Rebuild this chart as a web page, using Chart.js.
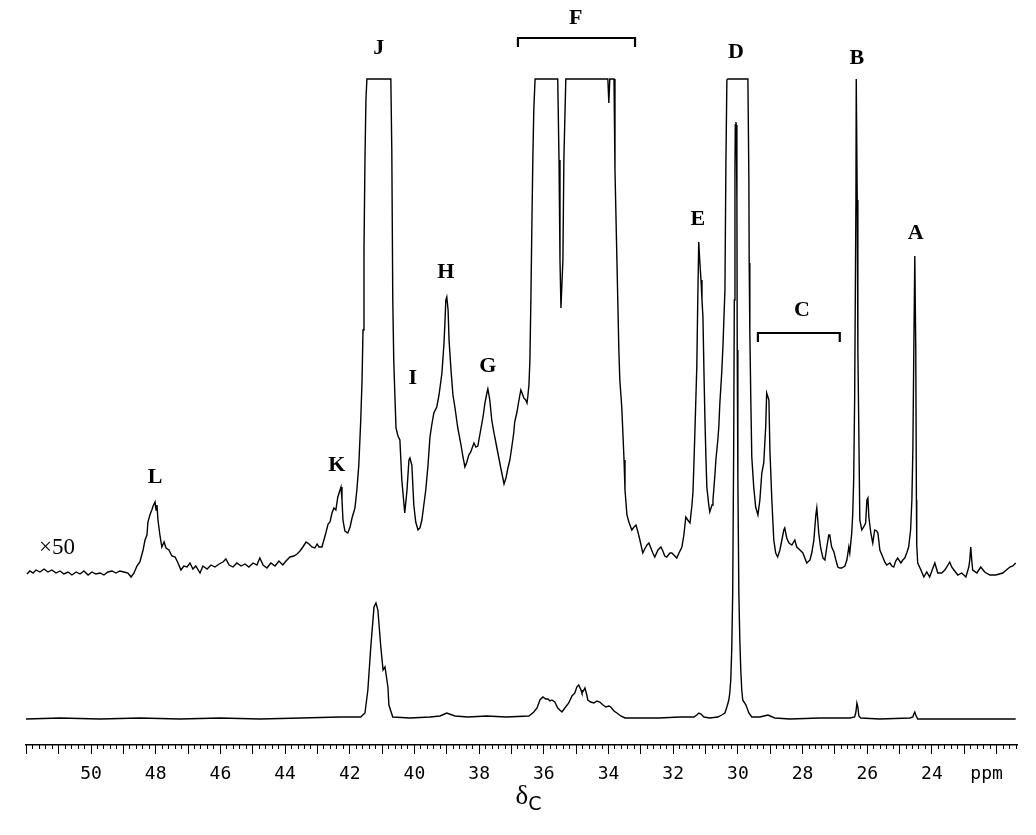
<!DOCTYPE html>
<html><head><meta charset="utf-8">
<script src="https://cdn.jsdelivr.net/npm/chart.js@4.4.1/dist/chart.umd.min.js"></script>
<style>html,body{margin:0;padding:0;background:#fff;}#wrap{width:1036px;height:835px;position:relative;}</style>
</head><body><div id="wrap"><canvas id="c" width="1036" height="835"></canvas></div>
<script>
// ×50 expanded trace: chemical shift (ppm) and intensity above its own baseline
const upperPpm = [51.98,51.89,51.79,51.70,51.58,51.45,51.33,51.21,51.08,50.96,50.84,50.71,50.59,50.46,50.34,50.22,50.09,49.97,49.85,49.72,49.60,49.48,49.35,49.23,49.11,48.98,48.86,48.76,48.67,
48.58,48.49,48.39,48.33,48.27,48.24,48.18,48.12,48.08,48.02,47.99,47.96,47.93,47.87,47.81,47.74,47.68,47.59,47.50,47.40,47.31,47.22,47.13,47.03,46.94,46.85,46.76,46.63,46.54,46.41,46.29,46.17,46.04,45.92,45.83,45.73,45.61,45.49,45.36,45.24,45.12,44.99,44.87,44.78,44.68,44.56,44.44,44.31,44.19,44.07,43.97,43.85,43.73,43.63,43.54,43.45,43.35,43.26,43.17,43.08,43.01,42.95,42.86,42.80,42.74,42.67,42.61,42.55,42.49,42.43,42.37,42.30,42.27,42.24,42.21,42.15,42.06,41.99,41.93,41.84,41.78,41.72,41.66,41.62,41.59,41.56,41.53,41.50,41.47,
40.73,40.70,40.67,40.64,40.60,40.57,40.51,40.45,40.39,40.30,40.23,40.17,40.14,40.08,40.02,39.96,39.89,39.83,39.77,39.71,39.65,39.58,39.52,39.46,39.40,39.31,39.24,39.15,39.09,39.06,39.03,39.00,38.96,38.93,38.87,38.81,38.75,38.66,38.56,38.50,38.44,38.38,38.32,38.26,38.16,38.10,38.04,37.98,37.88,37.82,37.76,37.73,37.67,37.61,37.54,37.48,37.42,37.33,37.23,37.17,37.11,37.05,36.99,36.93,36.90,36.83,36.80,36.74,36.71,36.65,36.62,36.56,36.52,36.49,36.46,36.43,36.40,36.37,36.34,36.31,36.27,
35.57,35.53,35.50,35.47,35.41,35.38,35.32,34.02,33.99,33.96,33.83,33.80,33.74,33.68,33.65,33.59,33.52,33.49,33.43,33.37,33.28,33.21,33.15,33.09,33.03,32.94,32.88,32.81,32.75,32.69,32.63,32.57,32.47,32.38,32.32,32.26,32.20,32.10,32.04,31.95,31.89,31.82,31.73,31.67,31.61,31.55,31.48,31.42,31.39,31.36,31.33,31.30,31.27,31.24,31.21,31.18,31.14,31.11,31.08,31.05,31.02,30.99,30.96,30.90,30.87,30.80,30.77,30.71,30.68,30.62,30.59,30.56,30.50,30.46,30.43,30.40,30.37,30.34,30.31,
29.69,29.66,29.65,29.63,29.60,29.57,29.51,29.45,29.38,29.32,29.26,29.20,29.17,29.14,29.11,29.07,29.04,29.01,28.95,28.89,28.83,28.77,28.70,28.64,28.58,28.55,28.49,28.42,28.33,28.24,28.18,28.08,27.99,27.93,27.87,27.77,27.71,27.65,27.59,27.56,27.53,27.50,27.44,27.37,27.31,27.25,27.19,27.16,27.10,27.03,26.97,26.91,26.85,26.79,26.69,26.63,26.57,26.54,26.48,26.45,26.42,26.39,26.35,26.34,26.32,26.31,26.29,26.26,26.23,26.17,26.11,26.05,26.01,25.98,25.95,25.89,25.83,25.77,25.71,25.67,25.61,25.52,25.46,25.40,25.30,25.24,25.18,25.12,25.06,24.96,24.90,24.84,24.78,24.72,24.66,24.62,24.59,24.56,24.53,24.50,24.48,24.47,24.44,24.34,24.25,24.16,24.07,23.97,23.91,23.82,23.70,23.60,23.54,23.45,23.39,23.32,23.20,23.08,22.95,22.86,22.83,22.80,22.77,22.74,22.61,22.49,22.37,22.21,22.03,21.81,21.59,21.50,21.41];
const upperIntensity = [-1,2,0,3,1,4,1,3,0,2,-1,1,-2,1,-1,2,-2,1,-1,0,-2,1,2,0,2,1,0,-4,0,
7,11,23,33,38,51,58,63,67,71,63,68,53,38,26,31,25,23,17,16,10,3,7,6,10,4,7,0,7,4,8,6,9,11,14,8,6,10,7,9,6,10,8,15,8,5,10,7,12,8,12,16,17,19,22,26,31,29,26,25,29,26,26,33,40,49,51,60,65,63,76,83,86,73,53,42,40,46,55,65,83,108,153,193,243,323,413,473,494,
494,423,273,213,173,145,137,133,93,60,83,113,115,108,68,51,43,45,53,68,83,108,136,149,160,166,178,200,228,248,273,276,263,233,203,178,166,145,128,116,106,111,118,121,130,126,127,138,156,170,180,184,173,153,140,130,120,105,89,95,105,113,126,140,151,161,167,178,183,178,175,173,170,178,188,213,273,346,413,463,494,
494,413,313,265,313,413,494,494,470,494,494,403,313,223,193,166,113,83,58,51,43,46,48,41,33,20,24,28,30,25,20,16,23,26,22,17,16,20,20,17,15,20,26,38,56,53,50,68,80,108,140,173,206,273,331,313,293,273,256,203,156,118,86,68,61,68,73,98,113,133,146,168,200,228,256,283,410,493,494,
494,393,310,240,173,116,86,66,58,73,100,110,128,146,180,176,173,123,73,33,20,16,23,33,43,45,35,30,28,33,26,23,20,15,10,13,21,33,58,65,53,40,25,15,13,26,38,38,26,21,13,6,5,5,7,13,26,20,40,58,93,173,373,494,494,373,223,140,53,43,46,50,73,75,56,40,30,43,42,40,23,16,11,8,10,7,6,12,15,10,13,15,20,26,43,73,123,223,317,223,73,28,10,3,-4,1,-4,5,10,0,0,3,6,11,6,3,-2,0,-4,6,13,26,13,3,0,6,1,-2,-2,0,6,7,10];

// Unexpanded trace: chemical shift (ppm) and intensity above its own baseline
const lowerPpm = [52.01,50.96,49.72,48.49,47.25,46.02,44.78,43.51,42.30,41.66,41.53,41.44,41.35,41.25,41.19,41.13,41.04,40.97,40.91,40.82,40.79,40.67,40.14,39.52,39.21,39.00,38.75,38.35,37.76,37.17,36.46,36.31,36.21,36.12,36.03,35.94,35.87,35.81,35.75,35.66,35.57,35.44,35.35,35.23,35.13,35.04,34.98,34.92,34.85,34.82,34.76,34.73,34.67,34.64,34.55,34.45,34.36,34.27,34.17,34.08,33.99,33.93,33.83,33.74,33.62,33.49,33.03,32.44,31.79,31.36,31.27,31.21,31.14,31.05,30.87,30.62,30.50,30.40,30.34,30.28,30.25,30.22,30.19,30.16,30.13,30.11,30.09,30.08,30.06,30.05,30.03,30.02,30.00,29.97,29.94,29.91,29.88,29.85,29.75,29.66,29.57,29.32,29.07,28.86,28.39,27.47,26.54,26.39,26.35,26.32,26.29,26.26,26.20,25.61,24.68,24.59,24.56,24.53,24.50,24.44,23.45,21.90,21.41];
const lowerIntensity = [-1,0,-1,0,-1,0,-1,0,1,1,5,28,71,111,115,108,71,48,51,31,13,1,0,1,2,5,2,1,2,1,2,6,10,18,21,19,19,17,18,16,10,6,10,15,22,25,31,33,28,25,28,30,23,18,16,15,17,16,13,11,12,11,7,5,2,0,0,0,1,1,3,5,4,1,0,1,3,5,11,18,25,38,68,125,268,418,548,593,596,593,518,368,238,125,78,48,28,18,13,5,1,1,3,0,-1,0,0,1,6,15,11,2,0,-1,0,1,4,6,3,-1,-1,-1,-1];

// Axis ticks
const tickLabels = [50,48,46,44,42,40,38,36,34,32,30,28,26,24];
const unitText = 'ppm';
const unitPpm = 22.31;

// Peak labels (position in ppm, height in ×50-trace units)
const peakNames  = ['L','K','J','I','H','G','F','E','D','C','B','A'];
const peakPpm    = [48.02,42.40,41.10,40.05,39.03,37.73,35.01,31.24,30.06,28.02,26.32,24.50];
const peakHeight = [96,108,525,195,301,207,555,354,521,263,515,340];
const scaleNote = '×50', scaleNotePpm = 51.05, scaleNoteHeight = 25;
const bracketFrom = [36.80,29.38], bracketTo = [33.18,26.85], bracketHeight = [535,240];

const annotate = {
  id:'annotate',
  afterDraw(chart){
    const c = chart.ctx, x = chart.scales.x, y = chart.scales.yUp;
    c.save();
    c.fillStyle = '#000'; c.textAlign = 'center'; c.textBaseline = 'middle';
    c.font = 'bold 22px "Liberation Serif"';
    peakNames.forEach((n,i)=>c.fillText(n, x.getPixelForValue(peakPpm[i]), y.getPixelForValue(peakHeight[i])));
    c.font = '23px "Liberation Serif"';
    c.fillText(scaleNote, x.getPixelForValue(scaleNotePpm), y.getPixelForValue(scaleNoteHeight));
    c.strokeStyle = '#000'; c.lineWidth = 2.2;
    bracketFrom.forEach((f,i)=>{
      const x1 = x.getPixelForValue(f), x2 = x.getPixelForValue(bracketTo[i]);
      const yy = y.getPixelForValue(bracketHeight[i]), yd = y.getPixelForValue(bracketHeight[i]-9);
      c.beginPath(); c.moveTo(x1,yd); c.lineTo(x1,yy); c.lineTo(x2,yy); c.lineTo(x2,yd); c.stroke();
    });
    // axis title δC
    const cx = (chart.chartArea.left + chart.chartArea.right)/2;
    const ty = x.top + 52;
    c.textAlign = 'left';
    c.font = '27px "Liberation Serif"';
    const w = c.measureText('δ').width;
    c.fillText('δ', cx - 6, ty);
    c.font = '19px "DejaVu Sans"';
    c.fillText('C', cx - 6 + w, ty + 8);
    c.restore();
  }
};

const toXY = (xs, ys) => xs.map((v,i)=>({x:v, y:ys[i]}));

new Chart(document.getElementById('c'), {
  type:'line',
  data:{datasets:[
    {label:'×50', data:toXY(upperPpm, upperIntensity), xAxisID:'x', yAxisID:'yUp', borderColor:'#000', borderWidth:1.4, pointRadius:0, tension:0, fill:false, clip:false},
    {label:'×1', data:toXY(lowerPpm, lowerIntensity), xAxisID:'x', yAxisID:'yLow', borderColor:'#000', borderWidth:1.4, pointRadius:0, tension:0, fill:false, clip:false}
  ]},
  options:{
    responsive:false, animation:false, devicePixelRatio:1,
    layout:{padding:{left:26, right:19, top:79, bottom:0}},
    plugins:{legend:{display:false}, tooltip:{enabled:false}},
    scales:{
      xMinor:{type:'linear', position:'bottom', reverse:true, min:21.37, max:52.01, weight:0,
        afterBuildTicks(s){ const t=[]; for(let v=214; v<=520; v+=2) t.push({value:v/10}); s.ticks=t; },
        afterFit(s){ s.height = 0; },
        ticks:{autoSkip:false, maxRotation:0, callback:()=>''},
        grid:{drawOnChartArea:false, drawTicks:true, tickLength:4, color:'#000', tickColor:'#000', lineWidth:1},
        border:{display:false}
      },
      x:{type:'linear', position:'bottom', reverse:true, min:21.37, max:52.01, weight:1,
        afterBuildTicks(s){ const t=[]; for(let v=22; v<=52; v++) t.push({value:v}); t.push({value:unitPpm}); s.ticks=t; },
        afterFit(s){ s.height = 90; },
        ticks:{autoSkip:false, maxRotation:0, minRotation:0, padding:10, color:'#000',
          font:{family:'"DejaVu Sans Mono"', size:18},
          callback:(v)=> v===unitPpm ? unitText : (tickLabels.includes(v) ? String(v) : '')},
        grid:{drawOnChartArea:false, drawTicks:true, tickLength:9, lineWidth:1,
          tickColor:(ctx)=> (ctx.tick && ctx.tick.value===unitPpm) ? 'rgba(0,0,0,0)' : '#000'},
        border:{display:true, color:'#000', width:1.5}
      },
      yUp:{type:'linear', display:false, min:-172, max:494},
      yLow:{type:'linear', display:false, min:-27, max:639}
    }
  },
  plugins:[annotate]
});
</script></body></html>
